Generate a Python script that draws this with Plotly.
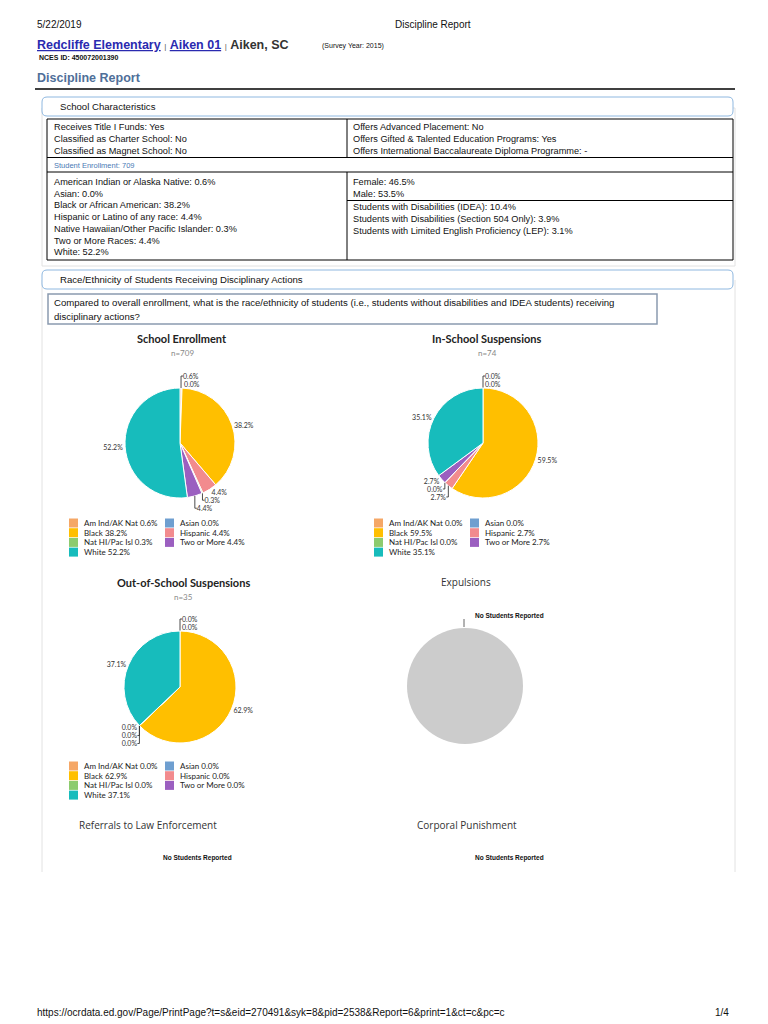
import plotly.graph_objects as go

# ── Data ──────────────────────────────────────────────────────────────────────
categories = ["Am Ind/AK Nat", "Asian", "Black", "Hispanic",
              "Nat HI/Pac Isl", "Two or More", "White"]
enroll_pct = [0.6, 0.0, 38.2, 4.4, 0.3, 4.4, 52.2]
iss_pct = [0.0, 0.0, 59.5, 2.7, 0.0, 2.7, 35.1]
oss_pct = [0.0, 0.0, 62.9, 0.0, 0.0, 0.0, 37.1]
expulsion_pct = [100.0]
chart_titles = ["School Enrollment", "In-School Suspensions", "Out-of-School Suspensions"]
chart_n = [709, 74, 35]

school_left = ["Receives Title I Funds: Yes",
               "Classified as Charter School: No",
               "Classified as Magnet School: No"]
school_right = ["Offers Advanced Placement: No",
                "Offers Gifted & Talented Education Programs: Yes",
                "Offers International Baccalaureate Diploma Programme: -"]
race_lines = ["American Indian or Alaska Native: 0.6%", "Asian: 0.0%",
              "Black or African American: 38.2%", "Hispanic or Latino of any race: 4.4%",
              "Native Hawaiian/Other Pacific Islander: 0.3%", "Two or More Races: 4.4%",
              "White: 52.2%"]
gender_lines = ["Female: 46.5%", "Male: 53.5%"]
program_lines = ["Students with Disabilities (IDEA): 10.4%",
                 "Students with Disabilities (Section 504 Only): 3.9%",
                 "Students with Limited English Proficiency (LEP): 3.1%"]

_COLORS = ["#f5a766", "#6f9fd0", "#ffbf00", "#f28b8e", "#8ccb6e", "#9b5fc0", "#17bcbc"]

W, H = 768, 1024
NARROW = "Liberation Sans Narrow, Arial Narrow, Liberation Sans, Arial"
SANS = "Liberation Sans, Arial, sans-serif"
CHART = "Lato, Calibri, sans-serif"
OPEN = "Open Sans, sans-serif"


def X(px):
    return px / W


def Y(py):
    return 1 - py / H


annotations = []
shapes = []


def text(x, y, s, size=10, family=NARROW, color="#111", anchor="left", **kw):
    annotations.append(dict(x=X(x), y=Y(y), xref="paper", yref="paper", text=s,
                            showarrow=False, xanchor=anchor, yanchor="middle",
                            font=dict(size=size, family=family, color=color), **kw))


def line(x0, y0, x1, y1, color="#000", width=1):
    shapes.append(dict(type="line", xref="paper", yref="paper", x0=X(x0), y0=Y(y0),
                       x1=X(x1), y1=Y(y1), line=dict(color=color, width=width)))


def rect(x0, y0, x1, y1, color="#000", width=1, fill="rgba(0,0,0,0)"):
    shapes.append(dict(type="rect", xref="paper", yref="paper", x0=X(x0), y0=Y(y0),
                       x1=X(x1), y1=Y(y1), fillcolor=fill, line=dict(color=color, width=width)))


def tab(x0, y0, x1, y1, r=5, color="#8fb8e0"):
    # rounded rectangle in paper units
    rx, ry = r / W, r / H
    a, b, c, d = X(x0), X(x1), Y(y0), Y(y1)
    path = (f"M {a+rx},{c} L {b-rx},{c} Q {b},{c} {b},{c-ry} L {b},{d+ry} "
            f"Q {b},{d} {b-rx},{d} L {a+rx},{d} Q {a},{d} {a},{d+ry} "
            f"L {a},{c-ry} Q {a},{c} {a+rx},{c} Z")
    shapes.append(dict(type="path", xref="paper", yref="paper", path=path,
                       fillcolor="white", line=dict(color=color, width=1)))


def dom(cx, cy, r):
    return dict(x=[X(cx - r), X(cx + r)], y=[Y(cy + r), Y(cy - r)])


# ── Page header ───────────────────────────────────────────────────────────────
text(35, 24, "5/22/2019", size=10, family=SANS)
text(433, 24, "Discipline Report", size=10, family=SANS, anchor="center")
text(35, 45, "<b><u>Redcliffe Elementary</u></b> <span style='font-size:8px;color:#555'>|</span> "
     "<b><u>Aiken 01</u></b> <span style='font-size:8px;color:#555'>|</span> "
     "<span style='color:#333'><b>Aiken, SC</b></span>", size=12.5, color="#2a2ab0")
text(320, 46, "(Survey Year: 2015)", size=7, family=NARROW)
text(37, 57, "<b>NCES ID: 450072001390</b>", size=7)
text(35, 78, "<b>Discipline Report</b>", size=12.5, color="#4f6f99")
line(35, 89, 735, 89, width=1.5)

# ── School characteristics ────────────────────────────────────────────────────
rect(42, 108, 735, 266, color="#e2e2e2")
tab(42, 97, 733, 116)
text(58, 106, "School Characteristics", size=9.6)
rect(47, 119, 733, 260, width=1)
line(47, 157.5, 733, 157.5)
line(47, 172, 733, 172)
line(347, 119, 347, 157.5)
line(347, 172, 347, 260)
line(347, 200.5, 733, 200.5)
for i, s in enumerate(school_left):
    text(52, 127 + 12 * i, s, size=9.2)
for i, s in enumerate(school_right):
    text(351, 127 + 12 * i, s, size=9.2)
text(52, 165, "Student Enrollment: 709", size=7.5, color="#4a7ab5")
for i, s in enumerate(race_lines):
    text(52, 182 + 11.7 * i, s, size=9.2)
for i, s in enumerate(gender_lines):
    text(351, 182 + 12 * i, s, size=9.2)
for i, s in enumerate(program_lines):
    text(351, 206.5 + 12 * i, s, size=9.2)

# ── Race/Ethnicity section ────────────────────────────────────────────────────
line(42, 280, 42, 872, color="#e2e2e2")
line(735, 280, 735, 872, color="#e2e2e2")
tab(42, 270, 733, 289)
text(58, 279, "Race/Ethnicity of Students Receiving Disciplinary Actions", size=9.6)
rect(48, 294, 657, 324, color="#8a9bb0", width=1.5)
text(52, 302, "Compared to overall enrollment, what is the race/ethnicity of students "
     "(i.e., students without disabilities and IDEA students) receiving", size=9.6)
text(52, 316, "disciplinary actions?", size=9.6)

# ── Pies ──────────────────────────────────────────────────────────────────────
fig = go.Figure()

pie_specs = [
    (enroll_pct, (180, 443, 55), (182, 338), (69, 523)),
    (iss_pct, (483, 443, 55), (487, 338), (374, 523)),
    (oss_pct, (180, 687, 56), (183, 582), (69, 766)),
]

for k, (vals, (cx, cy, r), (tx, ty), (lx, ly)) in enumerate(pie_specs):
    fig.add_trace(go.Pie(
        labels=categories, values=vals, domain=dom(cx, cy, r),
        sort=False, direction="clockwise", rotation=0,
        marker=dict(colors=_COLORS, line=dict(color="white", width=1)),
        textposition="outside", texttemplate="%{value:.1f}%",
        textfont=dict(size=7, family=CHART, color="#333"),
        hoverinfo="skip", showlegend=False,
    ))
    text(tx, ty, f"<b>{chart_titles[k]}</b>", size=11, family=CHART, color="#222", anchor="center")
    text(tx, ty + 15, f"n={chart_n[k]}", size=8, family=CHART, color="#888", anchor="center")
    # legend, two columns, row-major
    for j, (cat, v) in enumerate(zip(categories, vals)):
        col, row = j % 2, j // 2
        sx = lx + col * 96
        sy = ly + row * 9.7
        rect(sx, sy - 4.5, sx + 9, sy + 4.5, color=_COLORS[j], width=0, fill=_COLORS[j])
        text(sx + 13, sy, f"{cat} {v:.1f}%", size=8, family=CHART, color="#222")

# Expulsions: no students reported
fig.add_trace(go.Pie(
    labels=["No Students Reported"], values=expulsion_pct, domain=dom(465, 686, 58),
    sort=False, marker=dict(colors=["#cccccc"]),
    textinfo="none", hoverinfo="skip", showlegend=False,
))
text(466, 582, "Expulsions", size=10, family=OPEN, color="#333", anchor="center")
line(464, 619, 464, 627, color="#666")
text(473, 616, "<b>No Students Reported</b>", size=6.5, family=NARROW, color="#111")

text(77, 825, "Referrals to Law Enforcement", size=10, family=OPEN, color="#333")
text(197, 858, "<b>No Students Reported</b>", size=6.5, family=NARROW, color="#111", anchor="center")
text(415, 825, "Corporal Punishment", size=10, family=OPEN, color="#333")
text(509, 858, "<b>No Students Reported</b>", size=6.5, family=NARROW, color="#111", anchor="center")

# ── Footer ────────────────────────────────────────────────────────────────────
text(35, 1012, "https://ocrdata.ed.gov/Page/PrintPage?t=s&eid=270491&syk=8&pid=2538&Report=6&print=1&ct=c&pc=c",
     size=10, family=SANS)
text(731, 1012, "1/4", size=10, family=SANS, anchor="right")

fig.update_layout(
    width=W, height=H,
    margin=dict(l=0, r=0, t=0, b=0),
    paper_bgcolor="white", plot_bgcolor="white",
    annotations=annotations, shapes=shapes,
    showlegend=False,
)

fig.write_html("out.html", config={"displayModeBar": False},
               post_script="document.body.style.margin='0';")
